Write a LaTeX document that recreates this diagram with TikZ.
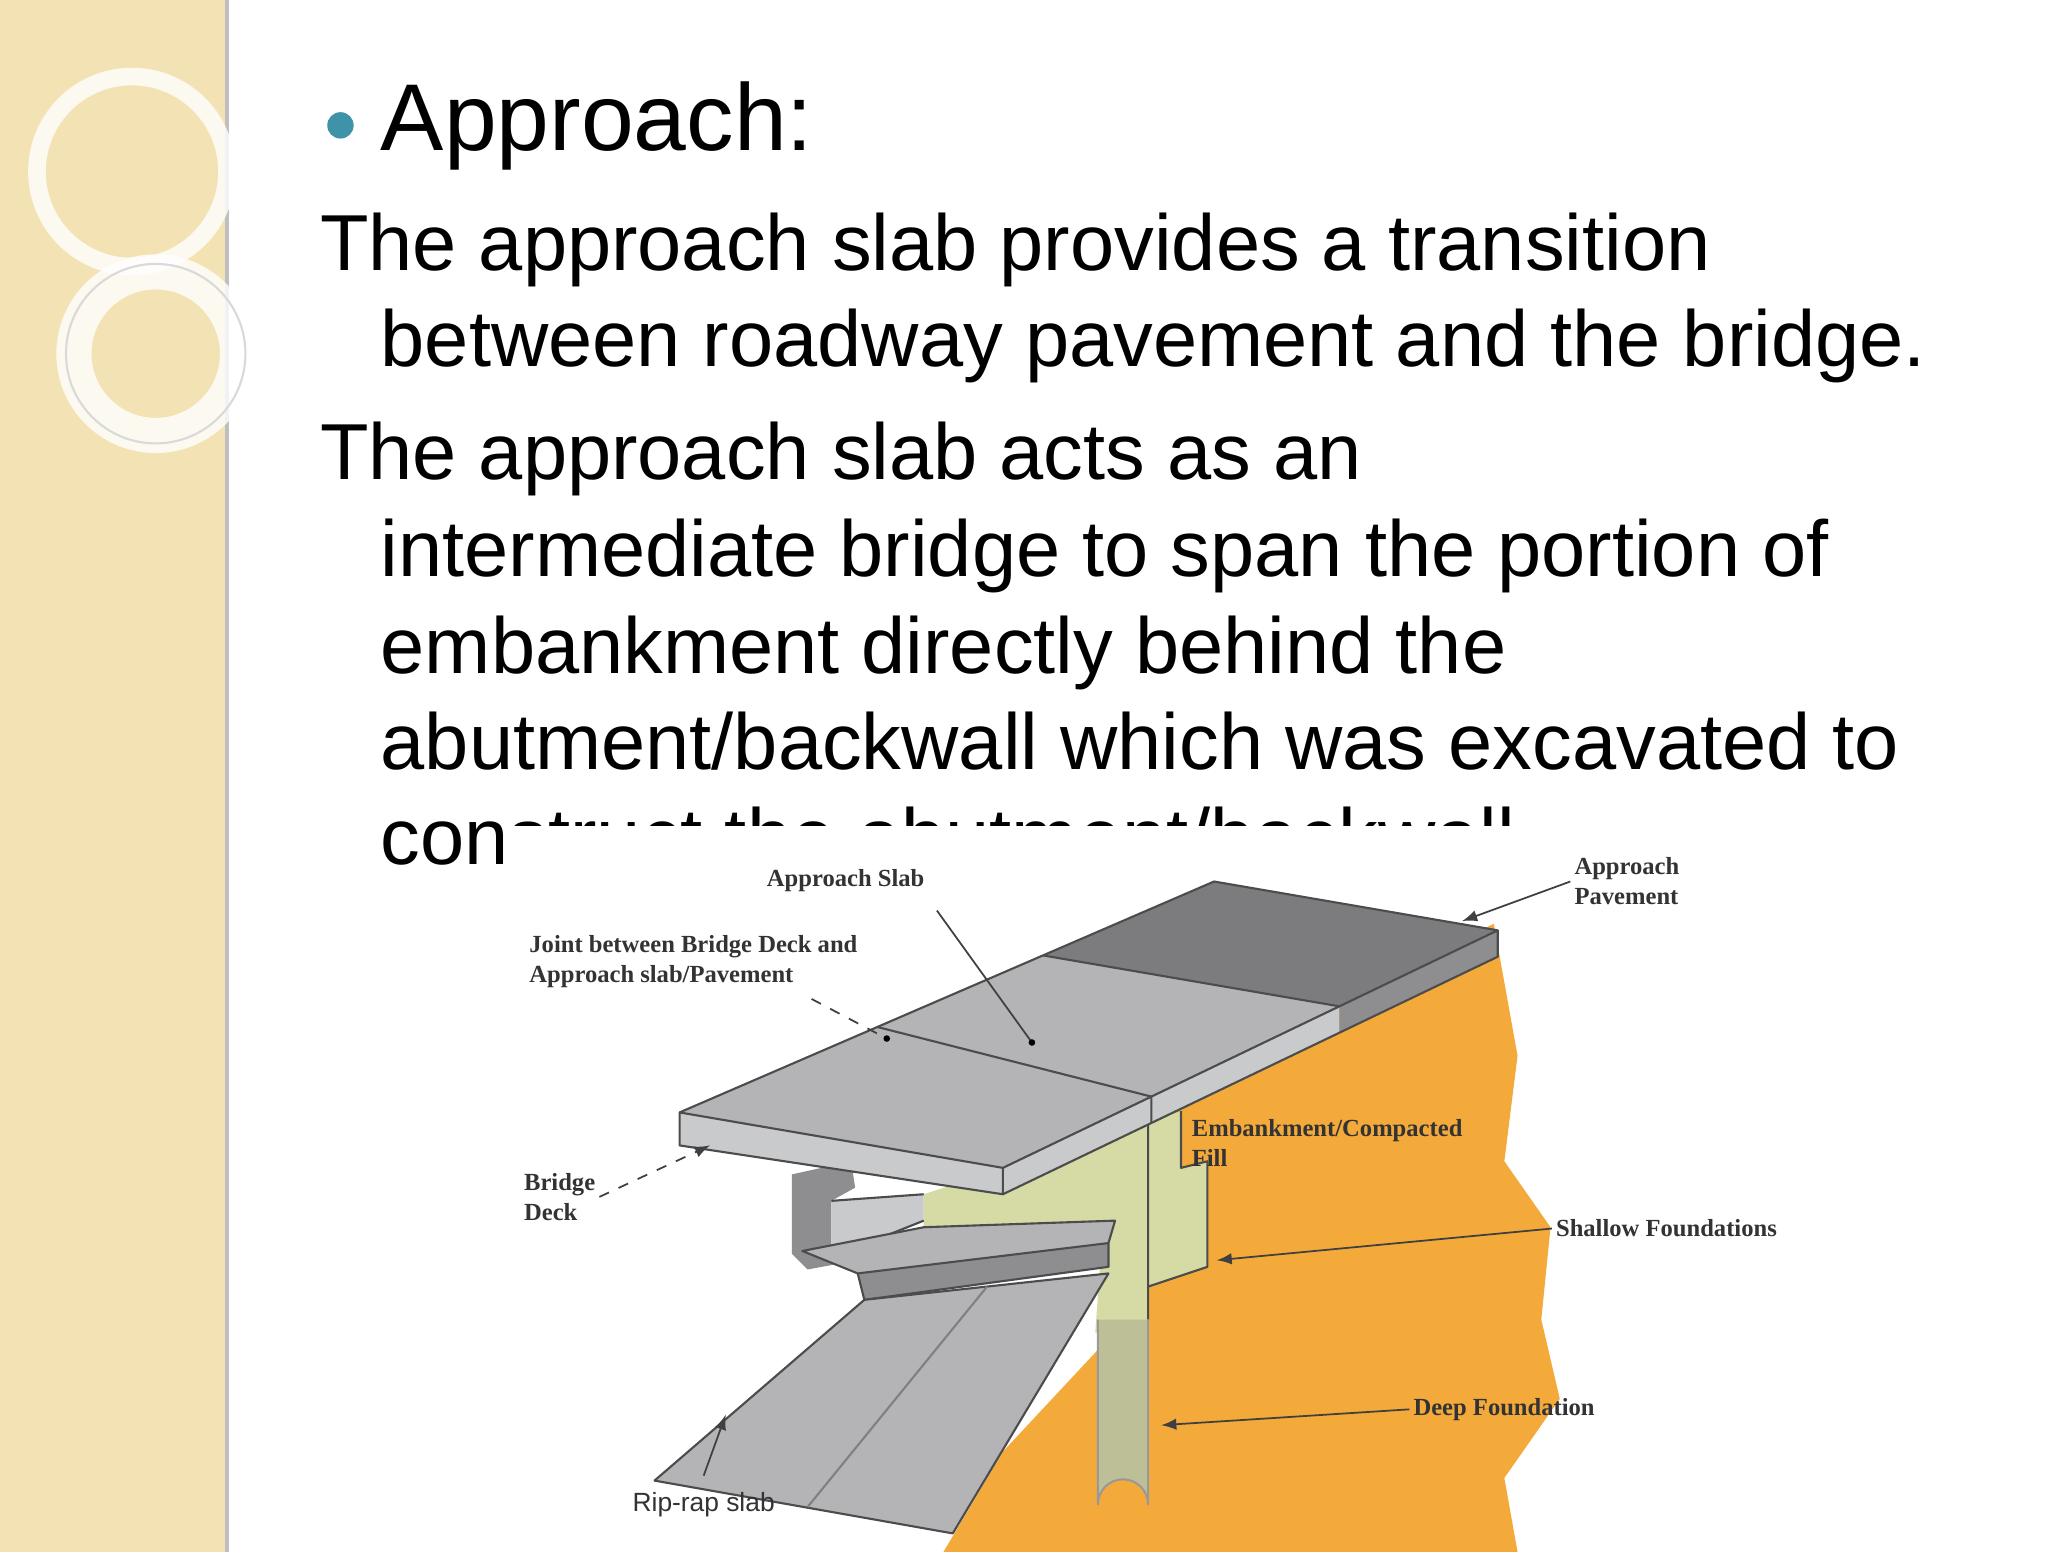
\documentclass[tikz,border=0pt]{standalone}
\usetikzlibrary{calc}
\usepackage{fontspec}
\setmainfont{Liberation Sans}
\newfontfamily\lblfont{Liberation Serif}
\definecolor{beige}{HTML}{F2E2B4}
\definecolor{teal}{HTML}{3F93A8}
\definecolor{orng}{HTML}{F4AA3A}
\definecolor{pave}{HTML}{7C7C7E}
\definecolor{slab}{HTML}{B4B4B6}
\definecolor{slabside}{HTML}{C8CACC}
\definecolor{abut}{HTML}{D6DAA4}
\definecolor{dgrey}{HTML}{8E8E90}
\begin{document}
\begin{tikzpicture}[x=0.013196cm,y=-0.013196cm,
  body/.style={anchor=base west,inner sep=0pt,font=\fontsize{22.6}{26}\selectfont},
  lbl/.style={font=\lblfont\bfseries\fontsize{7}{8.5}\selectfont,align=left,text=black!80,inner sep=1pt},
  ldr/.style={draw=black!75,line width=0.5pt},
  edge/.style={draw=black!70,line width=0.6pt,line join=round}]
\useasboundingbox (0,0) rectangle (1552,1176);
\fill[white] (0,0) rectangle (1552,1176);
% left strip
\fill[beige] (0,0) rectangle (172,1176);
\draw[black!25,line width=1pt] (172,0) -- (172,1176);
\draw[white,line width=5pt,opacity=0.8] (100,130) circle (72);
\draw[white,line width=10pt,opacity=0.8] (118,268) circle (62);
\draw[black!15,line width=0.6pt] (118,268) circle (68);
% text
\fill[teal] (258,95) circle (10);
\node[body,font=\fontsize{27}{30}\selectfont] (h) at (288,114) {Approach:};
\node[body] (l1) at (242,205) {The approach slab provides a transition};
\node[body] (l2) at (288,278) {between roadway pavement and the bridge.};
\node[body] (l3) at (242,363) {The approach slab acts as an};
\node[body] (l4) at (288,437) {intermediate bridge to span the portion of};
\node[body] (l5) at (288,510) {embankment directly behind the};
\node[body] (l6) at (288,583) {abutment/backwall which was excavated to};
\node[body] (l7) at (288,655) {construct the abutment/backwall.};
\fill[white] (383,626) rectangle (1300,1176);
% orange embankment
\fill[orng] (1132,700) -- (1150,800) -- (1140,880) -- (1175,930) -- (1168,1000) -- (1182,1060) -- (1140,1120) -- (1150,1176) -- (715,1176) -- (760,1100) -- (830,1025) -- (860,990) -- (860,840) -- cycle;
% abutment backwall / stem
\fill[abut] (700,905) -- (895,842) -- (895,885) -- (915,880) -- (915,960) -- (870,975) -- (870,1000) -- (830,1010) -- (835,940) -- (700,945) -- cycle;
\draw[edge] (870,820) -- (870,1000) (895,842) -- (895,885) -- (915,880) -- (915,960) -- (870,975);
% pile
\fill[abut!85!black!90] (832,1000) -- (832,1140) arc (180:360:19) -- (870,1000) -- cycle;
\draw[edge,black!40] (832,1000) -- (832,1140) arc (180:360:19) -- (870,1000);
% girder
\fill[dgrey] (600,890) -- (645,880) -- (648,900) -- (630,910) -- (630,945) -- (650,955) -- (612,962) -- (600,950) -- cycle;
\fill[slabside] (630,910) -- (700,905) -- (700,925) -- (650,945) -- (630,945) -- cycle;
\draw[edge] (630,910) -- (700,905) (650,945) -- (700,925);
% seat
\fill[slab] (608,948) -- (700,930) -- (845,925) -- (840,942) -- (650,965) -- cycle;
\fill[dgrey] (650,965) -- (840,942) -- (840,960) -- (655,985) -- cycle;
\draw[edge] (608,948) -- (700,930) -- (845,925) -- (840,942) -- (650,965) -- cycle (650,965) -- (655,985) -- (840,960) -- (840,942);
% rip-rap slab
\fill[slab] (655,985) -- (840,965) -- (722,1162) -- (496,1122) -- cycle;
\draw[edge] (655,985) -- (840,965) -- (722,1162) -- (496,1122) -- cycle;
\draw[edge,black!50] (748,975) -- (612,1142);
% deck & approach slab top surfaces
\coordinate (A) at (515,843); \coordinate (B) at (920,668);
\coordinate (C) at (1135,705); \coordinate (D) at (760,885);
\fill[slab] (A) -- (B) -- (C) -- (D) -- cycle;
\fill[pave] ($(A)!0.68!(B)$) -- (B) -- (C) -- ($(D)!0.68!(C)$) -- cycle;
\fill[slabside] (A) -- (D) -- (760,905) -- (515,868) -- cycle;
\fill[slabside] (D) -- ($(D)!0.68!(C)$) -- ++(0,20) -- (760,905) -- cycle;
\fill[dgrey] ($(D)!0.68!(C)$) -- (C) -- (1135,725) -- ($(D)!0.68!(C)+(0,20)$) -- cycle;
\draw[edge] (A) -- (B) -- (C) -- (D) -- cycle (A) -- (515,868) -- (760,905) -- (1135,725) -- (C) (D) -- (760,905);
\draw[edge] ($(A)!0.37!(B)$) -- ($(D)!0.3!(C)$) -- ++(0,20);
\draw[edge] ($(A)!0.68!(B)$) -- ($(D)!0.68!(C)$);
% labels
\node[lbl,anchor=west] (las) at (578,667) {Approach Slab};
\node[lbl,anchor=west] (ljt) at (398,729) {Joint between Bridge Deck and\\Approach slab/Pavement};
\node[lbl,anchor=west] (lap) at (1190,668) {Approach\\Pavement};
\node[lbl,anchor=west] (lbd) at (394,907) {Bridge\\Deck};
\node[lbl,anchor=west] (lem) at (900,866) {Embankment/Compacted\\Fill};
\node[lbl,anchor=west] (lsf) at (1176,931) {Shallow Foundations};
\node[lbl,anchor=west] (ldf) at (1068,1068) {Deep Foundation};
\node[anchor=west,font=\fontsize{7.5}{9}\selectfont,text=black!80] (lrr) at (470,1140) {Rip-rap slab};
\coordinate (pas) at (782,790); \coordinate (pjt) at (672,787);
\coordinate (pap) at (1108,698); \coordinate (pbd) at (538,868);
\coordinate (psf) at (922,955); \coordinate (pdf) at (880,1080);
\coordinate (prr) at (550,1072);
\draw[ldr] (710,690) -- (pas); \fill (pas) circle (2.5);
\draw[ldr,dashed] (615,757) -- (pjt); \fill (pjt) circle (2.5);
\draw[ldr,-latex] (lap.west) -- (pap);
\draw[ldr,dashed,-latex] (lbd.east) -- (pbd);
\draw[ldr,-latex] (lsf.west) -- (psf);
\draw[ldr,-latex] (ldf.west) -- (pdf);
\draw[ldr,-latex] (lrr.north) ++(0,-3) -- (prr);
\end{tikzpicture}
\end{document}
